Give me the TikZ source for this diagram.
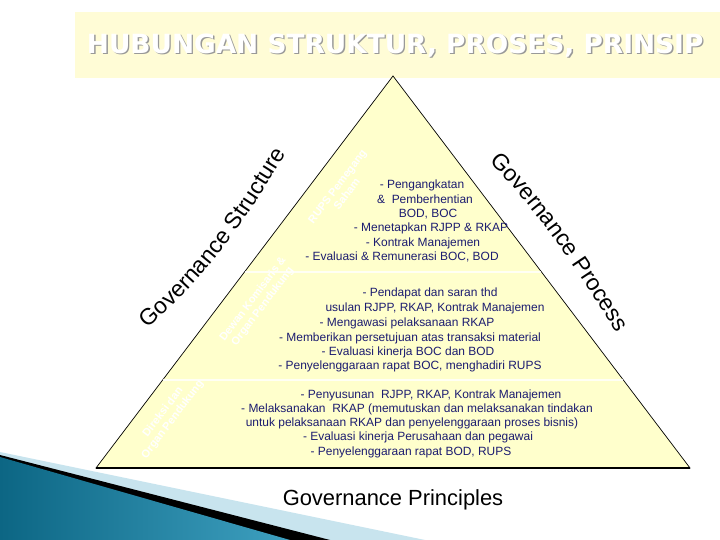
\documentclass[tikz,border=0pt]{standalone}
\usepackage{fontspec}
\setmainfont{Liberation Sans}
\newfontfamily\titlefam{DejaVu Sans}
\usetikzlibrary{decorations.text}
\definecolor{navytxt}{RGB}{28,28,112}
\definecolor{triyellow}{RGB}{255,255,204}
\definecolor{bandyellow}{RGB}{255,252,214}
\definecolor{tealdark}{RGB}{12,102,132}
\definecolor{teallight}{RGB}{62,160,192}
\definecolor{paleblue}{RGB}{200,228,238}
\newcommand\govsidefont{\fontsize{23}{23}\selectfont}
\begin{document}
\begin{tikzpicture}[x=1bp,y=1bp,
  tline/.style={font=\fontsize{12}{14}\selectfont, text=navytxt, inner sep=0pt, text height=8.6bp, text depth=2.5bp},
  ghost/.style={font=\fontsize{11}{12}\selectfont\bfseries, text=white, align=center, inner sep=0pt, rotate=53},
  ttl/.style={font=\titlefam\bfseries\fontsize{26.5}{28}\selectfont, inner sep=0pt},
  sepline/.style={white, line width=1.2bp, opacity=0.8}
]
\useasboundingbox (0,0) rectangle (720,540);
\fill[white] (0,0) rectangle (720,540);
% swoosh bottom-left
\fill[paleblue] (0,88) -- (425,0) -- (0,0) -- cycle;
\fill[black] (0,85) -- (330,0) -- (0,0) -- cycle;
\shade[left color=tealdark, right color=teallight] (0,83) -- (290,0) -- (0,0) -- cycle;
% title band
\fill[bandyellow] (75,462) rectangle (720,528);
% pyramid
\coordinate (apex) at (393,464);
\coordinate (bl) at (96,72);
\coordinate (br) at (690,72);
\filldraw[fill=triyellow, draw=black, line width=0.7bp] (apex) -- (bl) -- (br) -- cycle;
\draw[black, line width=1.1bp] (bl) -- (br);
\draw[sepline] (245,268) -- (541,268);
\draw[sepline] (163,160) -- (623,160);
% ghost labels
\node[ghost] (g1) at (342,350) {RUPS Pemegang\\Saham};
\node[ghost] (g2) at (258,237) {Dewan Komisaris \&\\Organ Pendukung};
\node[ghost] (g3) at (168,124) {Direksi dan\\Organ Pendukung};
% title with shadow
\node[ttl, text=black!40] (ts) at (396.6,493.4) {HUBUNGAN STRUKTUR, PROSES, PRINSIP};
\node[ttl, text=white] (title) at (395.2,494.8) {HUBUNGAN STRUKTUR, PROSES, PRINSIP};
% side titles
\path[decorate, decoration={text along path, text align=center, text={|\govsidefont|Governance Structure}}]
  (138,204) to[out=40,in=238] (293,397);
\path[decorate, decoration={text along path, text align=center, text={|\govsidefont|Governance Process}}]
  (479,389) to[out=-45,in=123] (625,195);
% block 1
\foreach \x/\y/\t [count=\i] in {422/355/{- Pengangkatan}, 425/340/{\&\ \ Pemberhentian}, 428/326/{BOD, BOC}, 431/312/{- Menetapkan RJPP \& RKAP}, 423/297/{- Kontrak Manajemen}, 402/283/{- Evaluasi \& Remunerasi BOC, BOD}}
  \node[tline] (a\i) at (\x,\y) {\t};
% block 2
\foreach \x/\y/\t [count=\i] in {430/247/{- Pendapat dan saran thd}, 435/232/{usulan RJPP, RKAP, Kontrak Manajemen}, 407/217/{- Mengawasi pelaksanaan RKAP}, 410/202/{- Memberikan persetujuan atas transaksi material}, 408/188/{- Evaluasi kinerja BOC dan BOD}, 410/174/{- Penyelenggaraan rapat BOC, menghadiri RUPS}}
  \node[tline] (b\i) at (\x,\y) {\t};
% block 3
\foreach \x/\y/\t [count=\i] in {431/145/{- Penyusunan\ \ RJPP, RKAP, Kontrak Manajemen}, 417/131/{- Melaksanakan\ \ RKAP (memutuskan dan melaksanakan tindakan}, 412/117/{untuk pelaksanaan RKAP dan penyelenggaraan proses bisnis)}, 418/103/{- Evaluasi kinerja Perusahaan dan pegawai}, 411/88/{- Penyelenggaraan rapat BOD, RUPS}}
  \node[tline] (c\i) at (\x,\y) {\t};
% principles
\node[font=\fontsize{22}{24}\selectfont, inner sep=0pt] (gp) at (393,40) {Governance Principles};
\end{tikzpicture}
\end{document}
